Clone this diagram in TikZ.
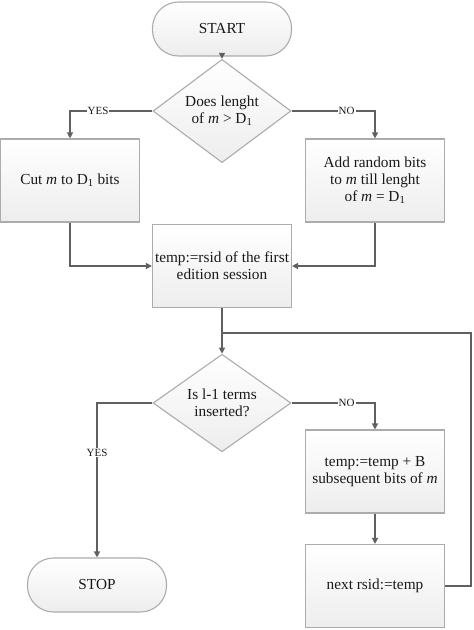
\documentclass[tikz,border=0pt]{standalone}
\usepackage{fontspec}
\setmainfont{Liberation Serif}
\usetikzlibrary{shapes.geometric,arrows.meta}
\tikzset{
  base/.style={draw=gray!65, line width=1.1pt, top color=white, bottom color=gray!14,
    font=\fontsize{15.3}{17}\selectfont, text=black!90, align=center},
  procbox/.style={base, rectangle, minimum width=139pt, minimum height=83pt, inner sep=1pt},
  term/.style={base, rectangle, rounded corners=26pt, minimum width=139pt, minimum height=54pt},
  decide/.style={base, diamond, inner sep=0pt, minimum width=138pt, minimum height=81pt},
  conn/.style={draw=gray!75!black, line width=1.2pt, -{Triangle[width=6pt,length=6pt]}},
  plain/.style={draw=gray!75!black, line width=1.2pt},
  lbl/.style={fill=white, inner sep=1pt, font=\fontsize{11}{12}\selectfont, text=black!90}
}
\begin{document}
\begin{tikzpicture}[x=1pt,y=-1pt]
\useasboundingbox (0,0) rectangle (474,630);
\node[term] (start) at (222,29) {START};
\node[decide] (d1) at (222,111) {Does lenght\\of \textit{m} > D\textsubscript{1}};
\node[procbox] (cut) at (70,180.5) {Cut \textit{m} to D\textsubscript{1} bits};
\node[procbox] (add) at (375,180.5) {Add random bits\\to \textit{m} till lenght\\of \textit{m} = D\textsubscript{1}};
\node[procbox] (temp) at (222,266) {temp:=rsid of the first\\edition session};
\node[decide] (d2) at (222,403) {Is l-1 terms\\inserted?};
\node[term] (stop) at (97,585) {STOP};
\node[procbox] (tmp2) at (375,471.5) {temp:=temp + B\\subsequent bits of \textit{m}};
\node[procbox] (next) at (375,586) {next rsid:=temp};
\coordinate (j) at (222,333);
\coordinate (rt) at (471,333);

\draw[conn] (start.south) -- (d1.north);
\draw[conn] (d1.west) -| node[lbl,pos=0.33] {YES} (cut.north);
\draw[conn] (d1.east) -| node[lbl,pos=0.33] {NO} (add.north);
\draw[conn] (cut.south) |- (temp.west);
\draw[conn] (add.south) |- (temp.east);
\draw[conn] (temp.south) -- (d2.north);
\draw[conn] (d2.west) -| node[lbl,pos=0.66] {YES} (stop.north);
\draw[conn] (d2.east) -| node[lbl,pos=0.33] {NO} (tmp2.north);
\draw[conn] (tmp2.south) -- (next.north);
\draw[plain] (next.east) -| (rt) -- (j);
\end{tikzpicture}
\end{document}
